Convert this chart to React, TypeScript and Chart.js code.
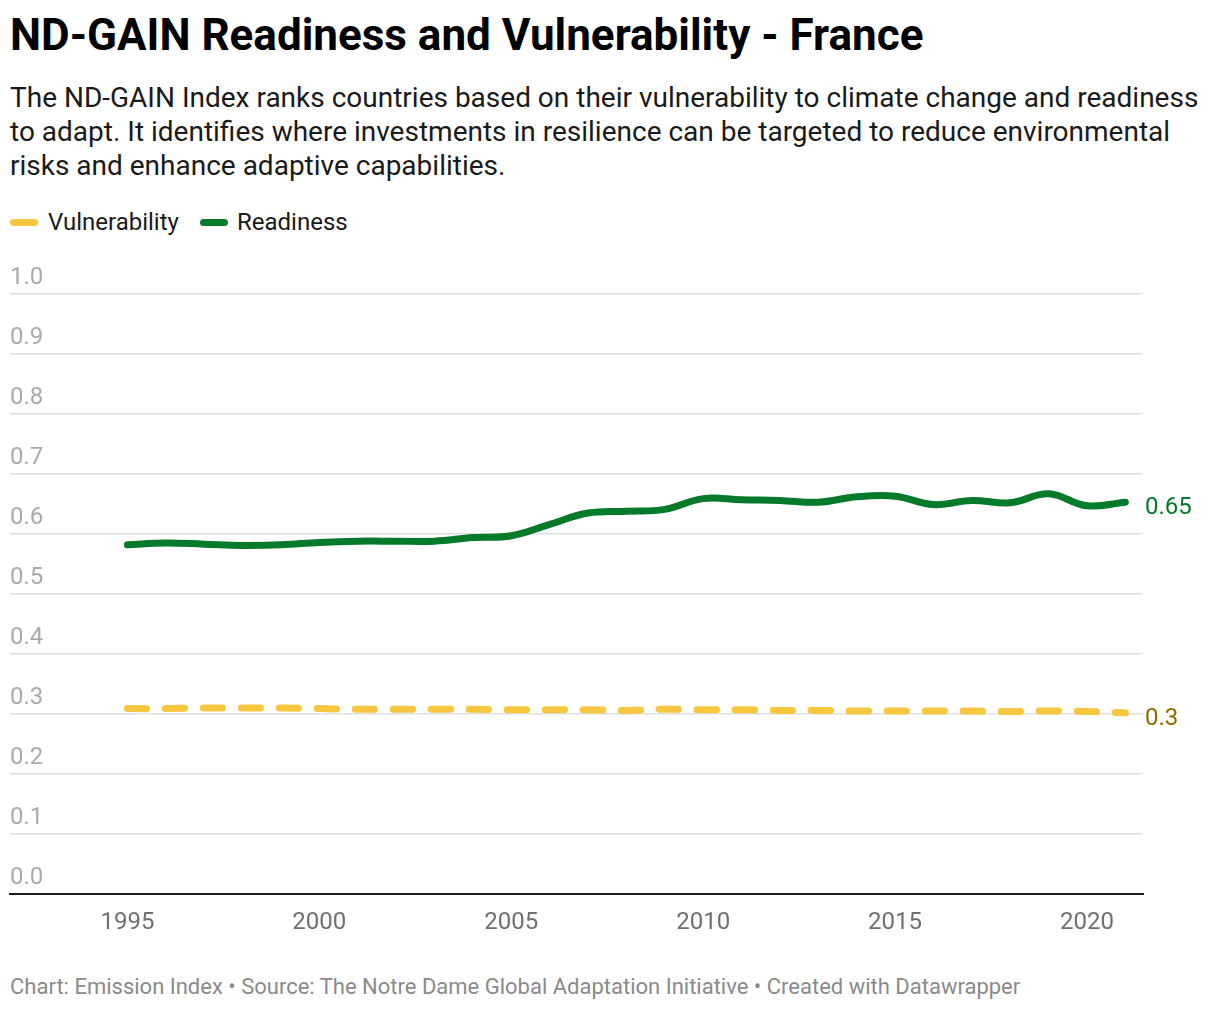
import React, { useEffect, useRef } from "react";
import { Chart, registerables } from "chart.js";

Chart.register(...registerables);

const years = [1995, 1996, 1997, 1998, 1999, 2000, 2001, 2002, 2003, 2004, 2005, 2006, 2007, 2008, 2009, 2010, 2011, 2012, 2013, 2014, 2015, 2016, 2017, 2018, 2019, 2020, 2021];
const readiness = [0.582, 0.585, 0.583, 0.581, 0.582, 0.586, 0.588, 0.588, 0.588, 0.594, 0.597, 0.616, 0.635, 0.638, 0.641, 0.659, 0.657, 0.656, 0.653, 0.662, 0.663, 0.649, 0.656, 0.652, 0.667, 0.647, 0.653];
const vulnerability = [0.309, 0.309, 0.31, 0.31, 0.31, 0.309, 0.308, 0.308, 0.308, 0.308, 0.307, 0.307, 0.307, 0.306, 0.308, 0.307, 0.307, 0.306, 0.306, 0.305, 0.305, 0.305, 0.305, 0.304, 0.305, 0.304, 0.302];
const xTicks = [1995, 2000, 2005, 2010, 2015, 2020];
const seriesNames = ["Vulnerability", "Readiness"];
const endLabels = ["0.3", "0.65"];

const GREEN = "#067a2b";
const YELLOW = "#f8c740";
const FONT = "Roboto, 'Noto Sans', sans-serif";

const endLabelPlugin = {
  id: "endLabels",
  afterDatasetsDraw(chart: any) {
    const { ctx, chartArea, scales } = chart;
    ctx.save();
    ctx.font = `24px ${FONT}`;
    ctx.textAlign = "left";
    ctx.textBaseline = "middle";
    chart.data.datasets.forEach((ds: any, i: number) => {
      const last = ds.data[ds.data.length - 1];
      const y = scales.y.getPixelForValue(last.y);
      ctx.fillStyle = ds.labelColor;
      ctx.fillText(endLabels[i], chartArea.right + 2, y + 6);
    });
    ctx.restore();
  },
};

export default function App() {
  const ref = useRef<HTMLCanvasElement | null>(null);
  useEffect(() => {
    if (!ref.current) return;
    const chart = new Chart(ref.current, {
      type: "line",
      data: {
        datasets: [
          {
            label: seriesNames[0],
            data: years.map((y, i) => ({ x: y, y: vulnerability[i] })),
            borderColor: YELLOW,
            borderWidth: 7,
            borderDash: [19, 19],
            borderCapStyle: "round",
            pointRadius: 0,
            tension: 0.4,
            fill: false,
            labelColor: "#8c6b00",
          } as any,
          {
            label: seriesNames[1],
            data: years.map((y, i) => ({ x: y, y: readiness[i] })),
            borderColor: GREEN,
            borderWidth: 7,
            borderCapStyle: "round",
            borderJoinStyle: "round",
            pointRadius: 0,
            tension: 0.4,
            fill: false,
            labelColor: GREEN,
          } as any,
        ],
      },
      options: {
        animation: false,
        responsive: false,
        maintainAspectRatio: false,
        layout: { padding: { left: 2, right: 69, top: 44, bottom: 23.2 } },
        plugins: { legend: { display: false }, tooltip: { enabled: false } },
        scales: {
          x: {
            type: "linear",
            min: 1991.94,
            max: 2021.46,
            grid: { display: false },
            border: { display: true, color: "#1a1a1a", width: 2 },
            afterBuildTicks: (axis: any) => {
              axis.ticks = xTicks.map((v) => ({ value: v }));
            },
            ticks: {
              padding: 7,
              color: "#707070",
              font: { family: FONT, size: 24 },
              maxRotation: 0,
              autoSkip: false,
              callback: (v: any) => String(v),
            },
          },
          y: {
            min: 0,
            max: 1,
            grid: { color: "#e0e0e0", lineWidth: 1.5, drawTicks: false },
            border: { display: false },
            ticks: {
              stepSize: 0.1,
              mirror: true,
              padding: 0,
              labelOffset: -16,
              color: "#aaaaaa",
              font: { family: FONT, size: 24 },
              callback: (v: any) => Number(v).toFixed(1),
            },
          },
        },
      },
      plugins: [endLabelPlugin],
    });
    return () => chart.destroy();
  }, []);

  const legendItem = (name: string, color: string, left: number, textLeft: number) => (
    <div key={name}>
      <div
        style={{
          position: "absolute",
          left,
          top: 211,
          width: 28,
          height: 7,
          borderRadius: 4,
          background: color,
        }}
      />
      <div
        style={{
          position: "absolute",
          left: textLeft,
          top: 199,
          fontSize: 24,
          lineHeight: "30px",
          color: "#1a1a1a",
          whiteSpace: "nowrap",
        }}
      >
        {name}
      </div>
    </div>
  );

  return (
    <div style={{ position: "relative", width: 1204, height: 1000, fontFamily: FONT }}>
      <div
        style={{
          position: "absolute",
          left: 2,
          top: 5,
          fontSize: 44,
          lineHeight: "44px",
          fontWeight: 700,
          color: "#000",
          whiteSpace: "nowrap",
        }}
      >
        ND-GAIN Readiness and Vulnerability - France
      </div>
      <div
        style={{
          position: "absolute",
          left: 2,
          top: 73,
          fontSize: 28,
          lineHeight: "34px",
          color: "#1a1a1a",
          whiteSpace: "nowrap",
        }}
      >
        The ND-GAIN Index ranks countries based on their vulnerability to climate change and readiness
        <br />
        to adapt. It identifies where investments in resilience can be targeted to reduce environmental
        <br />
        risks and enhance adaptive capabilities.
      </div>
      {legendItem(seriesNames[0], YELLOW, 2, 40)}
      {legendItem(seriesNames[1], GREEN, 192, 229)}
      <canvas
        ref={ref}
        width={1204}
        height={718}
        style={{ position: "absolute", left: 0, top: 242, width: 1204, height: 718 }}
      />
      <div
        style={{
          position: "absolute",
          left: 2,
          top: 966,
          fontSize: 22,
          lineHeight: "26px",
          color: "#8a8a8a",
          whiteSpace: "nowrap",
        }}
      >
        Chart: Emission Index • Source: The Notre Dame Global Adaptation Initiative • Created with Datawrapper
      </div>
    </div>
  );
}
